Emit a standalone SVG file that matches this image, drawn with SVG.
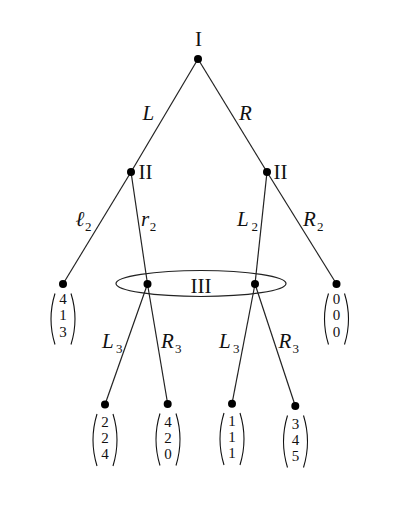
<svg xmlns="http://www.w3.org/2000/svg" width="413" height="507" viewBox="0 0 413 507">
<style>
.e{stroke:#222;stroke-width:1.2;fill:none}
.d{fill:#000}
.p{stroke:#111;stroke-width:1.1;fill:none}
.pl{font-family:"Liberation Serif",serif;font-size:21px;fill:#111}
.lb{font-family:"Liberation Serif",serif;font-style:italic;font-size:21px;fill:#111}
.sb{font-family:"Liberation Serif",serif;font-size:13px;fill:#111}
.v{font-family:"Liberation Serif",serif;font-size:15px;fill:#111;text-anchor:middle}
</style>
<rect width="413" height="507" fill="#fff"/>
<g id="connectors">
<line class="e" x1="198" y1="59" x2="131" y2="172"/>
<line class="e" x1="198" y1="59" x2="267" y2="172"/>
<line class="e" x1="131" y1="172" x2="63" y2="284"/>
<line class="e" x1="131" y1="172" x2="147.5" y2="284"/>
<line class="e" x1="267" y1="172" x2="255" y2="284"/>
<line class="e" x1="267" y1="172" x2="336.5" y2="284"/>
<line class="e" x1="147.5" y1="284" x2="105" y2="404.5"/>
<line class="e" x1="147.5" y1="284" x2="167.7" y2="404"/>
<line class="e" x1="255" y1="284" x2="232" y2="403.7"/>
<line class="e" x1="255" y1="284" x2="295.3" y2="406"/>
<text class="lb" x="142.5" y="119.5">L</text>
<text class="lb" x="239" y="119.5">R</text>
<text class="lb" x="75.5" y="225.5">ℓ</text><text class="sb" x="85" y="231">2</text>
<text class="lb" x="141" y="225.5">r</text><text class="sb" x="149.8" y="231">2</text>
<text class="lb" x="237" y="225.5">L</text><text class="sb" x="251.5" y="231">2</text>
<text class="lb" x="303" y="225.5">R</text><text class="sb" x="317" y="231">2</text>
<text class="lb" x="102" y="347.5">L</text><text class="sb" x="116" y="352.5">3</text>
<text class="lb" x="161" y="347.5">R</text><text class="sb" x="175" y="352.5">3</text>
<text class="lb" x="219" y="347.5">L</text><text class="sb" x="233" y="352.5">3</text>
<text class="lb" x="278.5" y="347.5">R</text><text class="sb" x="292.5" y="352.5">3</text>
</g>
<g id="n-root">
<circle class="d" cx="198" cy="59" r="4"/>
<text class="pl" x="198.5" y="46" text-anchor="middle">I</text>
</g>
<g id="n-II-left">
<circle class="d" cx="131" cy="172" r="4"/>
<text class="pl" x="138.5" y="179">II</text>
</g>
<g id="n-II-right">
<circle class="d" cx="267" cy="172" r="4"/>
<text class="pl" x="273.5" y="179">II</text>
</g>
<g id="n-III">
<ellipse class="e" cx="201" cy="283.5" rx="85" ry="13"/>
<circle class="d" cx="147.5" cy="284" r="4"/>
<circle class="d" cx="255" cy="284" r="4"/>
<text class="pl" x="201" y="293" text-anchor="middle">III</text>
</g>
<g id="leaf-413">
<circle class="d" cx="63" cy="284" r="4"/>
<path class="p" d="M55 293.5 Q47 319 55 344.5 M71 293.5 Q79 319 71 344.5"/>
<text class="v" x="63" y="304">4</text><text class="v" x="63" y="320">1</text><text class="v" x="63" y="336.5">3</text>
</g>
<g id="leaf-000">
<circle class="d" cx="336.5" cy="284" r="4"/>
<path class="p" d="M328.5 293.5 Q320.5 319 328.5 344.5 M344.5 293.5 Q352.5 319 344.5 344.5"/>
<text class="v" x="336.5" y="304">0</text><text class="v" x="336.5" y="320">0</text><text class="v" x="336.5" y="336.5">0</text>
</g>
<g id="leaf-224">
<circle class="d" cx="105" cy="404.5" r="4"/>
<path class="p" d="M97 414 Q89 440 97 466 M113 414 Q121 440 113 466"/>
<text class="v" x="105" y="427">2</text><text class="v" x="105" y="443">2</text><text class="v" x="105" y="459">4</text>
</g>
<g id="leaf-420">
<circle class="d" cx="167.7" cy="404" r="4"/>
<path class="p" d="M160 413.5 Q152 439.5 160 465.5 M176 413.5 Q184 439.5 176 465.5"/>
<text class="v" x="168" y="426.5">4</text><text class="v" x="168" y="442.5">2</text><text class="v" x="168" y="458.5">0</text>
</g>
<g id="leaf-111">
<circle class="d" cx="232" cy="403.7" r="4"/>
<path class="p" d="M224 413 Q216 439 224 465 M240 413 Q248 439 240 465"/>
<text class="v" x="232" y="426">1</text><text class="v" x="232" y="442">1</text><text class="v" x="232" y="458">1</text>
</g>
<g id="leaf-345">
<circle class="d" cx="295.3" cy="406" r="4"/>
<path class="p" d="M287.5 415.5 Q279.5 441.5 287.5 467.5 M303.5 415.5 Q311.5 441.5 303.5 467.5"/>
<text class="v" x="295.5" y="428.5">3</text><text class="v" x="295.5" y="444.5">4</text><text class="v" x="295.5" y="460.5">5</text>
</g>
</svg>
